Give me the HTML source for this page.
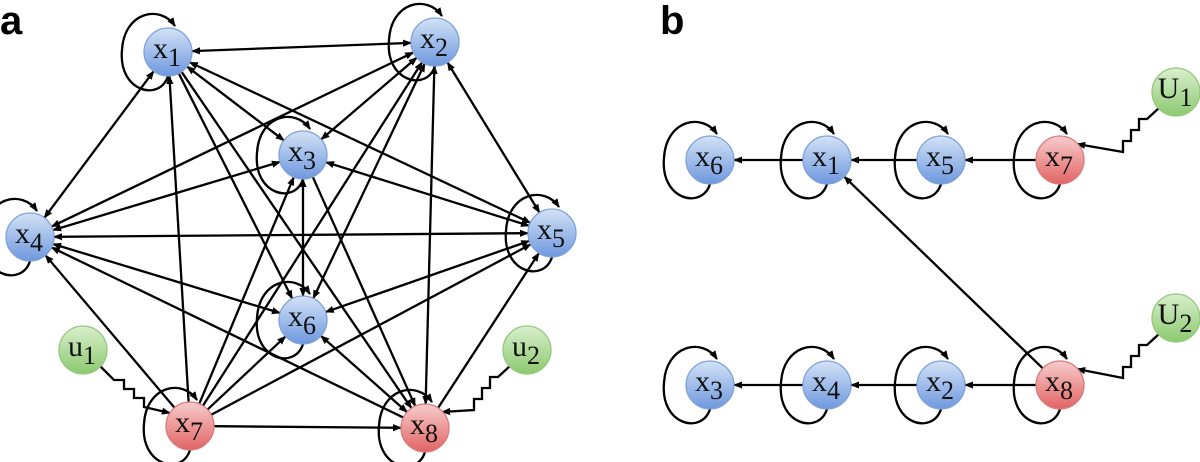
<!DOCTYPE html>
<html><head><meta charset="utf-8"><style>
body{margin:0;background:#fff;width:1200px;height:462px;overflow:hidden}
svg{display:block}
</style></head><body>
<svg id="s" width="1200" height="462" xmlns="http://www.w3.org/2000/svg">
<defs>
<marker id="ar" viewBox="0 0 10 10" refX="9" refY="5" markerWidth="9" markerHeight="9" orient="auto-start-reverse" markerUnits="userSpaceOnUse"><path d="M0,1 L10,5 L0,9 Z" fill="#000"/></marker>
<linearGradient id="gb" x1="0" y1="0" x2="0" y2="1"><stop offset="0" stop-color="#d3e2f6"/><stop offset="1" stop-color="#6e98de"/></linearGradient>
<linearGradient id="gr" x1="0" y1="0" x2="0" y2="1"><stop offset="0" stop-color="#f7cccc"/><stop offset="1" stop-color="#e26464"/></linearGradient>
<linearGradient id="gg" x1="0" y1="0" x2="0" y2="1"><stop offset="0" stop-color="#d9efcd"/><stop offset="1" stop-color="#8cc96f"/></linearGradient>
</defs>
<text x="0" y="34" font-family="Liberation Sans, sans-serif" font-weight="bold" font-size="40">a</text>
<text x="660" y="34" font-family="Liberation Sans, sans-serif" font-weight="bold" font-size="40">b</text>
<g id="edges" stroke="#000" stroke-width="2.3" fill="none"></g>
<g id="nodes"></g>
</svg>
<script>
var N={
a1:[168,52,'x','1','b'],a2:[435,42,'x','2','b'],a3:[303,155,'x','3','b'],a4:[30,237,'x','4','b'],
a5:[552,233,'x','5','b'],a6:[303,320,'x','6','b'],a7:[190,426,'x','7','r'],a8:[425,428,'x','8','r'],
u1:[83,350,'u','1','g'],u2:[527,350,'u','2','g'],
b6:[710,160,'x','6','b'],b1:[827,160,'x','1','b'],b5:[941,160,'x','5','b'],b7:[1060,160,'x','7','r'],U1:[1176,92,'U','1','g'],
b3:[710,385,'x','3','b'],b4:[827,385,'x','4','b'],b2:[941,385,'x','2','b'],b8:[1060,385,'x','8','r'],U2:[1176,318,'U','2','g']};
var R=24,ns='http://www.w3.org/2000/svg',E=document.getElementById('edges'),G=document.getElementById('nodes');
function el(t,a,p){var e=document.createElementNS(ns,t);for(var k in a)e.setAttribute(k,a[k]);p.appendChild(e);return e;}
function edge(a,b,both){var A=N[a],B=N[b];var dx=B[0]-A[0],dy=B[1]-A[1],d=Math.hypot(dx,dy),ux=dx/d,uy=dy/d;
var at={x1:A[0]+ux*R,y1:A[1]+uy*R,x2:B[0]-ux*R,y2:B[1]-uy*R,'marker-end':'url(#ar)'};if(both)at['marker-start']='url(#ar)';el('line',at,E);}
var bi=[['a1','a2'],['a1','a4'],['a1','a5'],['a2','a3'],['a2','a4'],['a2','a5'],['a2','a6'],['a2','a8'],['a3','a4'],['a3','a5'],['a3','a6'],['a4','a5'],['a4','a6'],['a5','a6'],['a6','a8'],['a1','a3']];
bi.forEach(function(p){edge(p[0],p[1],true)});
var uni=[['a1','a6'],['a1','a8'],['a7','a1'],['a7','a2'],['a3','a8'],['a7','a3'],['a7','a4'],['a8','a4'],['a7','a5'],['a8','a5'],['a7','a6'],['a7','a8'],
['b7','b5'],['b5','b1'],['b1','b6'],['b8','b2'],['b2','b4'],['b4','b3'],['b8','b1']];
uni.forEach(function(p){edge(p[0],p[1],false)});
['a1','a2','a3','a4','a5','a6','a7','a8','b6','b1','b5','b7','b3','b4','b2','b8'].forEach(function(k){var c=N[k],x=c[0],y=c[1];
el('path',{d:'M'+(x)+','+(y+24)+' C'+(x-8)+','+(y+50)+' '+(x-50)+','+(y+40)+' '+(x-46)+','+(y-2)+' C'+(x-44)+','+(y-40)+' '+(x-8)+','+(y-48)+' '+(x+7)+','+(y-26),'marker-end':'url(#ar)'},E);});
function zig(u,t){var U=N[u],T=N[t];var sx=U[0]+17,sy=U[1]+16,ex=T[0]-20,ey=T[1]-13;
var p=[[sx,sy],[sx+14,sy+14]],x=sx+14,y=sy+14;
for(var i=0;i<3;i++){x+=10;p.push([x,y]);y+=9;p.push([x,y]);}
p.push([ex,ey]);el('polyline',{points:p.map(function(q){return q.join(',')}).join(' '),'marker-end':'url(#ar)'},E);}
function zigL(u,t){var U=N[u],T=N[t];var sx=U[0]-17,sy=U[1]+16,ex=T[0]+17,ey=T[1]-16;
var p=[[sx,sy],[sx-12,sy+11]],x=sx-12,y=sy+11;
for(var i=0;i<3;i++){x-=8;p.push([x,y]);y+=11;p.push([x,y]);}
p.push([ex,ey]);el('polyline',{points:p.map(function(q){return q.join(',')}).join(' '),'marker-end':'url(#ar)'},E);}
zig('u1','a7');zigL('u2','a8');zigL('U1','b7');zigL('U2','b8');
for(var k in N){var c=N[k];var g={b:['url(#gb)','#7ea2da'],r:['url(#gr)','#d87b7b'],g:['url(#gg)','#93c97c']}[c[4]];
el('circle',{cx:c[0],cy:c[1],r:R,fill:g[0],stroke:g[1],'stroke-width':1.3},G);
var t=el('text',{x:c[0]-1,y:c[1]+6,'text-anchor':'middle','font-family':'Liberation Serif, serif','font-size':30,fill:'#111'},G);
var s1=el('tspan',{},t);s1.textContent=c[2];var s2=el('tspan',{dy:8,'font-size':26},t);s2.textContent=c[3];}
</script>
</body></html>
